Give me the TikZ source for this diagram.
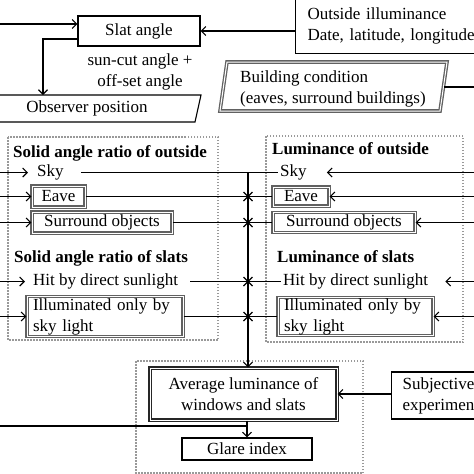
\documentclass[tikz,border=0pt]{standalone}
\usepackage{fontspec}
\setmainfont{Liberation Serif}
\usetikzlibrary{arrows.meta}
\begin{document}
\begin{tikzpicture}[x=1pt,y=-1pt,
  every node/.style={font=\fontsize{17}{21}\selectfont},
  ln/.style={line width=1.1pt},
  arr/.style={ln,-{Straight Barb[length=4.5pt,width=9pt,line width=1.1pt]}},
  box/.style={draw, ln, inner sep=0pt},
  dbox/.style={draw=black!62, line width=1.3pt, double=white, double distance=1pt, inner sep=0pt},
  dotbox/.style={draw=black!40, line width=1.5pt, dash pattern=on 1.5pt off 1.5pt},
  lbl/.style={inner sep=0pt, anchor=west},
  hd/.style={lbl, font=\fontsize{17}{21}\selectfont\bfseries}]
\useasboundingbox (0,0) rectangle (474,474);

% dotted groups
\draw[dotbox] (8,137) rectangle (218,340);
\draw[dotbox] (266,136) rectangle (463,342);
\draw[dotbox] (136,361) rectangle (363,473);

% top part
\node[box, minimum width=122pt, minimum height=30pt] (slat) at (139,31) {Slat angle};
\node[box, anchor=north west, minimum width=200pt, minimum height=55pt, inner xsep=12pt, text width=176pt, align=left] (oi) at (295,-2) {Outside illuminance\\Date, latitude, longitude};
\node[lbl, anchor=center, align=center] (sc) at (140,72) {sun-cut angle +\\off-set angle};

\draw[ln] (-5,95) -- (201,95) -- (195,122) -- (-5,122);
\node (obs) at (87,108.5) {Observer position};
\coordinate (obstop) at (43,95);
\draw[arr] ([yshift=-8pt]slat.west) -| (obstop);
\coordinate (inslat) at (-2,24);
\draw[arr] (inslat) -- (inslat -| slat.west);
\draw[arr] (oi.west |- slat.east) -- (slat.east);

\draw[dbox] (227,62) -- (447,62) -- (440,111) -- (220,111) -- cycle;
\node[lbl, align=left] (bc) at (240,89) {Building condition\\(eaves, surround buildings)};
\coordinate (bcR) at (443.5,87);
\coordinate (bcOut) at (480,87);
\draw[ln] (bcR) -- (bcOut);

% left section
\node[hd] (hL1) at (13,153) {Solid angle ratio of outside};
\node[lbl] (skyL) at (37,172.5) {Sky};
\node[dbox, minimum width=53pt, minimum height=21pt] (eaveL) at (58.5,196.5) {Eave};
\node[dbox, minimum width=140pt, minimum height=21pt] (surL) at (102,222.5) {Surround objects};
\node[hd] (hL2) at (14,258) {Solid angle ratio of slats};
\node[lbl] (hitL) at (33,281.5) {Hit by direct sunlight};
\node[dbox, minimum width=156pt, minimum height=40pt, text width=144pt, align=left] (illL) at (105,316.5) {Illuminated only by\\sky light};

% right section
\node[hd] (hR1) at (272,149) {Luminance of outside};
\node[lbl] (skyR) at (280,172.5) {Sky};
\node[dbox, minimum width=56pt, minimum height=19pt] (eaveR) at (301,196.5) {Eave};
\node[dbox, minimum width=142pt, minimum height=20pt] (surR) at (344,222.5) {Surround objects};
\node[hd] (hR2) at (277,257) {Luminance of slats};
\node[lbl] (hitR) at (283,281.5) {Hit by direct sunlight};
\node[dbox, minimum width=155pt, minimum height=38pt, text width=143pt, align=left] (illR) at (355.5,316.5) {Illuminated only by\\sky light};

% left inputs
\coordinate (inSkyL) at (-2,172.5);
\coordinate (inEaveL) at (-2,196.5);
\coordinate (inSurL) at (-2,222.5);
\coordinate (inHitL) at (-2,281.5);
\coordinate (inIllL) at (-2,316.5);
\draw[arr] (inSkyL) -- ([xshift=-9pt]skyL.west);
\draw[arr] (inEaveL) -- (eaveL.west);
\draw[arr] (inSurL) -- (surL.west);
\draw[arr] (inHitL) -- ([xshift=-8pt]hitL.west);
\draw[arr] (inIllL) -- (illL.west);

% right inputs
\coordinate (inSkyR) at (480,172.5);
\coordinate (inEaveR) at (480,196.5);
\coordinate (inSurR) at (480,222.5);
\coordinate (inHitR) at (480,281.5);
\coordinate (inIllR) at (480,316.5);
\draw[arr] (inSkyR) -- ([xshift=20pt]skyR.east);
\draw[arr] (inEaveR) -- (eaveR.east);
\draw[arr] (inSurR) -- (surR.east);
\draw[arr] (inHitR) -- ([xshift=17pt]hitR.east);
\draw[arr] (inIllR) -- (illR.east);

% horizontal links
\draw[ln] ([xshift=17pt]skyL.east) -- ([xshift=-2pt]skyR.west);
\draw[ln] (eaveL.east) -- (eaveR.west);
\draw[ln] (surL.east) -- (surR.west);
\draw[ln] ([xshift=12pt]hitL.east) -- ([xshift=-2pt]hitR.west);
\draw[ln] (illL.east) -- (illR.west);

% bottom part
\node[draw=black!85, line width=1.3pt, double=white, double distance=1pt, minimum width=187pt, minimum height=52pt, align=center, inner sep=0pt] (avg) at (243.5,394) {Average luminance of\\windows and slats};
\node[box, minimum width=130pt, minimum height=22pt] (glare) at (247,449) {Glare index};
\node[box, anchor=west, minimum width=120pt, minimum height=47pt, inner xsep=11pt, text width=98pt, align=left] (subj) at (391,395.5) {Subjective\\experiment};

\coordinate (vtop) at (248,172.5);
\draw[arr] (vtop) -- (vtop |- avg.north);
\foreach \yy in {196.5,222.5,281.5,316.5}
  \draw[ln] (243.5,\yy-4.5) -- (252.5,\yy+4.5) (243.5,\yy+4.5) -- (252.5,\yy-4.5);

\draw[arr] (subj.west |- avg.east) -- (avg.east);
\draw[arr] (glare.north |- avg.south) -- (glare.north);
\coordinate (inGl) at (-2,426);
\coordinate (gj) at (247,426);
\draw[ln] (inGl) -- (gj);
\end{tikzpicture}
\end{document}
